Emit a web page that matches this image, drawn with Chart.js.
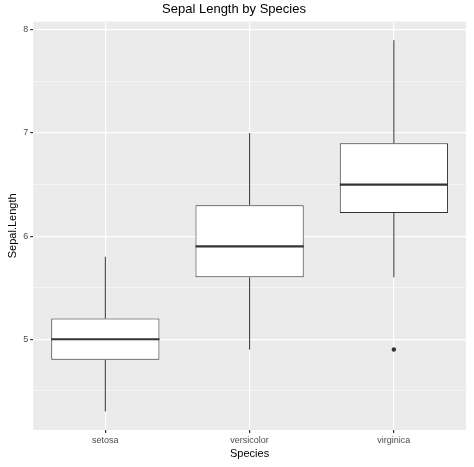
<!DOCTYPE html>
<html><head><meta charset="utf-8">
<script src="https://cdn.jsdelivr.net/npm/chart.js@4"></script>
<style>html,body{margin:0;background:#fff}#w{width:474px;height:467px}</style>
</head><body><div id="w"><canvas id="c"></canvas></div>
<script>
const categories=["setosa","versicolor","virginica"];
const lowWhisker=[4.3,4.9,5.6];
const q1=[4.8,5.6,6.225];
const median=[5.0,5.9,6.5];
const q3=[5.2,6.3,6.9];
const highWhisker=[5.8,7.0,7.9];
const outliers=[[],[],[4.9]];
const yTicks=[4.5,5,5.5,6,6.5,7,7.5,8];

const boxPlugin={id:'box',afterDatasetsDraw(chart){
  const ctx=chart.ctx,x=chart.scales.x,y=chart.scales.y;
  const meta=chart.getDatasetMeta(0);
  ctx.save();ctx.strokeStyle='#333';ctx.fillStyle='#333';
  categories.forEach((c,i)=>{
    const bar=meta.data[i];const cx=x.getPixelForValue(i);const hw=bar.width/2;
    ctx.lineWidth=1;ctx.beginPath();
    ctx.moveTo(cx,y.getPixelForValue(q3[i]));ctx.lineTo(cx,y.getPixelForValue(highWhisker[i]));
    ctx.moveTo(cx,y.getPixelForValue(q1[i]));ctx.lineTo(cx,y.getPixelForValue(lowWhisker[i]));
    ctx.stroke();
    ctx.lineWidth=2.2;ctx.beginPath();
    const my=y.getPixelForValue(median[i]);ctx.moveTo(cx-hw,my);ctx.lineTo(cx+hw,my);ctx.stroke();
    outliers[i].forEach(v=>{ctx.beginPath();ctx.arc(cx,y.getPixelForValue(v),2.2,0,Math.PI*2);ctx.fill();});
  });
  ctx.restore();
}};
const bgPlugin={id:'bg',beforeDraw(chart){const a=chart.chartArea,ctx=chart.ctx;ctx.save();ctx.fillStyle='#EBEBEB';ctx.fillRect(a.left,a.top,a.width,a.height);ctx.restore();}};

new Chart(document.getElementById('c'),{
  type:'bar',
  data:{labels:categories,datasets:[{data:categories.map((c,i)=>[q1[i],q3[i]]),backgroundColor:'#fff',borderColor:'#333',borderWidth:1,borderSkipped:false,categoryPercentage:1,barPercentage:0.75}]},
  options:{responsive:true,maintainAspectRatio:false,animation:false,
    layout:{padding:{top:0,right:8,left:2,bottom:2}},
    plugins:{legend:{display:false},tooltip:{enabled:false},
      title:{display:true,text:'Sepal Length by Species',color:'#000',font:{family:'Liberation Sans',size:13,weight:'normal'},padding:{top:2,bottom:4}}},
    scales:{
      x:{offset:true,grid:{offset:false,color:'#fff',lineWidth:1.2,drawTicks:true,tickLength:3,tickColor:'#333'},border:{display:false},
        ticks:{color:'#4D4D4D',font:{family:'Liberation Sans',size:9},padding:2},
        title:{display:true,text:'Species',color:'#000',font:{family:'Liberation Sans',size:11},padding:{top:0}}},
      y:{min:4.12,max:8.08,afterBuildTicks(s){s.ticks=yTicks.map(v=>({value:v}));},
        grid:{color:'#fff',lineWidth:c=>Number.isInteger(c.tick.value)?1.2:0.5,tickLength:3,tickColor:c=>Number.isInteger(c.tick.value)?'#333':'rgba(0,0,0,0)'},border:{display:false},
        ticks:{color:'#4D4D4D',font:{family:'Liberation Sans',size:9},padding:2,callback:v=>Number.isInteger(v)?String(v):''},
        title:{display:true,text:'Sepal.Length',color:'#000',font:{family:'Liberation Sans',size:11},padding:{bottom:2}}}
    }},
  plugins:[bgPlugin,boxPlugin]
});
</script></body></html>
